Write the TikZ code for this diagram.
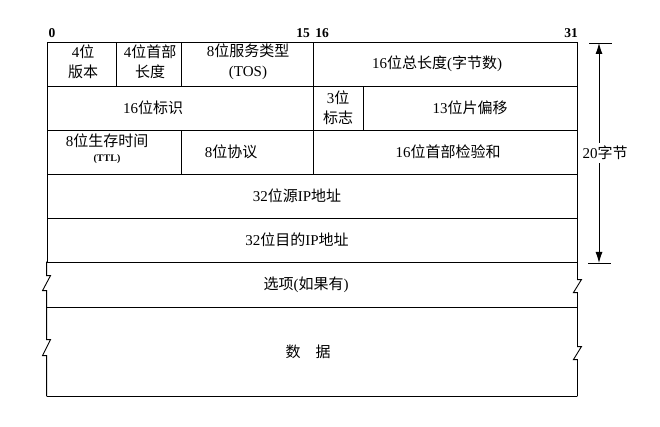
\documentclass[tikz,border=0pt]{standalone}
\usepackage{fontspec}
\setmainfont{Liberation Serif}
\newfontfamily\zhfont{Noto Sans CJK SC}
\newcommand{\zh}[1]{{\zhfont #1}}
\usetikzlibrary{arrows.meta,positioning}

\begin{document}
\begin{tikzpicture}[x=1pt, y=-1pt, line width=0.9pt,
  field/.style={draw, minimum height=44pt, inner sep=0pt},
  gap/.style={minimum height=#1, inner sep=0pt},
  txt/.style={font=\fontsize{15}{20}\selectfont, align=center, inner sep=0pt},
  bits/.style={font=\fontsize{13.5}{13.5}\selectfont\bfseries, inner sep=0pt}]
\useasboundingbox (0,0) rectangle (660,427);
% bit numbers
\node[bits] (b0) at (52,33) {0};
\node[bits] (b15) at (303,33) {15};
\node[bits] (b16) at (322,33) {16};
\node[bits] (b31) at (571,33) {31};
% header fields
\node[field, minimum width=69pt]  (ver)   at (81.5,64)  {};
\node[field, minimum width=65pt]  (ihl)   at (148.5,64) {};
\node[field, minimum width=132pt] (tos)   at (247,64)   {};
\node[field, minimum width=264pt] (len)   at (445,64)   {};
\node[field, minimum width=266pt] (id)    at (180,108)  {};
\node[field, minimum width=50pt]  (flag)  at (338,108)  {};
\node[field, minimum width=214pt] (frag)  at (470,108)  {};
\node[field, minimum width=134pt] (ttl)   at (114,152)  {};
\node[field, minimum width=132pt] (proto) at (247,152)  {};
\node[field, minimum width=264pt] (csum)  at (445,152)  {};
\node[field, minimum width=530pt] (src)   at (312,196)  {};
\node[field, minimum width=530pt] (dst)   at (312,240)  {};
\node[gap=45pt, minimum width=530pt] (opt)  at (312,284.5) {};
\node[gap=89pt, minimum width=530pt] (data) at (312,351.5) {};
% texts
\node[txt] (ver-t) at (83,62) {4\zh{位}\\\zh{版本}};
\node[txt] (ihl-t) at (150,62) {4\zh{位首部}\\\zh{长度}};
\node[txt] (tos-t) at (248,62) {8\zh{位服务类型}\\(TOS)};
\node[txt, xshift=-8pt] (len-t) at (len) {16\zh{位总长度}(\zh{字节数})};
\node[txt, xshift=-27pt] (id-t) at (id) {16\zh{位标识}};
\node[txt] (flag-t) at (flag) {3\zh{位}\\\zh{标志}};
\node[txt] (frag-t) at (frag) {13\zh{位片偏移}};
\node[txt] (ttl-t) at (107,149) {8\zh{位生存时间}\\[-5pt]{\fontsize{10}{12}\selectfont\bfseries (TTL)}};
\node[txt, xshift=-16pt] (proto-t) at (proto) {8\zh{位协议}};
\node[txt, xshift=3pt] (csum-t) at (csum) {16\zh{位首部检验和}};
\node[txt, xshift=-15pt] (src-t) at (src) {32\zh{位源}IP\zh{地址}};
\node[txt, xshift=-15pt] (dst-t) at (dst) {32\zh{位目的}IP\zh{地址}};
\node[txt, xshift=-6pt] (opt-t) at (opt) {\zh{选项}(\zh{如果有})};
\node[txt, xshift=-4pt] (data-t) at (data) {\zh{数}\hspace{1em}\zh{据}};
% options and data, broken sides
\draw (opt.south west) -- (opt.south east);
\draw (data.south west) -- (data.south east);
\draw (opt.north west) -- ++(0,14) -- ++(4,0) -- ++(-8,15) -- ++(4,0)
  -- ++(0,49) -- ++(4,0) -- ++(-8,16) -- ++(4,0) -- (data.south west);
\draw (opt.north east) -- ++(0,18) -- ++(4,0) -- ++(-8,13) -- ++(4,0)
  -- ++(0,54) -- ++(4,0) -- ++(-8,13) -- ++(4,0) -- (data.south east);
% 20 bytes
\coordinate (top) at (599,43);
\coordinate (bot) at (599,263);
\draw ([xshift=-10pt]top) -- ([xshift=13pt]top);
\draw ([xshift=-11pt]bot) -- ([xshift=12pt]bot);
\draw[{Latex[length=11pt,width=7pt]}-{Latex[length=11pt,width=7pt]}] (top) -- node[txt, fill=white, inner ysep=3pt, xshift=6pt] (hdr) {20\zh{字节}} (bot);
\end{tikzpicture}
\end{document}
